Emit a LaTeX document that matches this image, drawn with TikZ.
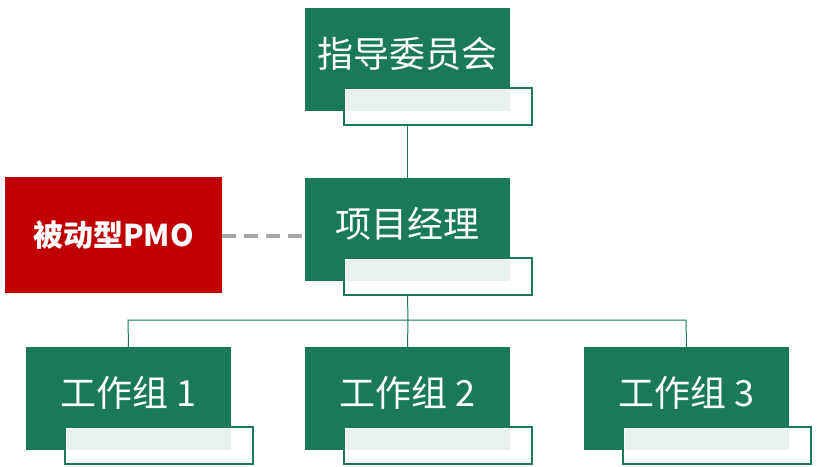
\documentclass[tikz,border=0pt]{standalone}
\usepackage{fontspec}
\setmainfont{Noto Sans CJK SC}
\definecolor{gr}{HTML}{1A7A58}
\definecolor{lt}{HTML}{E8F1EE}
\definecolor{rd}{HTML}{C00000}
\begin{document}
\begin{tikzpicture}[x=1pt,y=-1pt,
  gbox/.style={fill=gr,draw=none,text=white,font=\fontsize{36}{40}\selectfont},
  ovl/.style={draw=gr,line width=1.5pt,fill=white},
  conn/.style={draw=gr,line width=1pt}]
\useasboundingbox (0,0) rectangle (830,466);
\newcommand\unit[5]{% name, x0, y0, text
  \fill[gr] (#2,#3) rectangle ++(205,103);
  \draw[ovl] (#2+39,#3+80) rectangle ++(188,37);
  \fill[lt] (#2+41,#3+82) rectangle ++(164,21);
  \node[text=white,font=\fontsize{36}{40}\selectfont,inner sep=0] (#1) at (#2+102.5,#3+46) {#4};
  \coordinate (#1t) at (#2+102.5,#3);
  \coordinate (#1b) at (#2+102.5,#3+117);
}
\unit{a}{305}{8}{指导委员会}{}
\unit{b}{305}{178}{项目经理}{}
\unit{c}{26}{347}{工作组 1}{}
\unit{d}{305}{347}{工作组 2}{}
\unit{e}{584}{347}{工作组 3}{}
\fill[rd] (5,177) rectangle (222,293);
\node[text=white,font=\bfseries\fontsize{30}{34}\selectfont,inner sep=0] (pmo) at (113.5,235) {被动型PMO};
\coordinate (pr) at (222,236);
\coordinate (bl) at (305,236);
\draw[gray!70,line width=4pt,dash pattern=on 14pt off 8pt] (pr) -- (bl);
\draw[conn] (ab) -- (bt);
\draw[conn] (bb) -- (408,320);
\draw[conn] (ct) -- (128,320) -- (686,320) -- (et);
\draw[conn] (408,320) -- (dt);
\end{tikzpicture}
\end{document}
